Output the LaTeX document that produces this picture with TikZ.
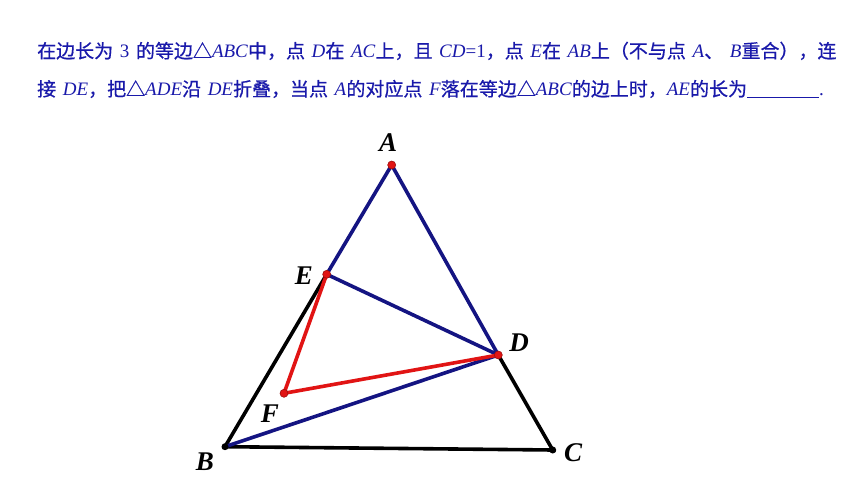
\documentclass[tikz,border=0pt]{standalone}
\usepackage{fontspec}
\setmainfont{Liberation Serif}
\newfontfamily\cjk[FakeBold=0.6]{Noto Sans CJK SC}
\newcommand{\tri}{{\cjk △}}
\newcommand{\gp}{\hspace{0.35em}}
\definecolor{txtblue}{RGB}{25,25,170}
\definecolor{navy}{RGB}{20,20,130}
\definecolor{ptred}{RGB}{225,20,20}
\begin{document}
\begin{tikzpicture}[x=1pt,y=-1pt,
  qtext/.style={anchor=base west,inner sep=0pt,text=txtblue,font=\fontsize{19}{19}\selectfont},
  lbl/.style={font=\fontsize{27}{27}\selectfont\bfseries\itshape,inner sep=0pt},
  bl/.style={draw=navy,line width=3.6pt},
  rd/.style={draw=ptred,line width=3.6pt},
  bk/.style={draw=black,line width=3.6pt},
  rdot/.style={circle,fill=ptred,draw=ptred!70!black,line width=0.6pt,inner sep=0pt,minimum size=8pt},
  kdot/.style={circle,fill=black,inner sep=0pt,minimum size=7pt}]
\useasboundingbox (0,0) rectangle (864,486);
\fill[white] (0,0) rectangle (864,486);
\node[qtext] (t1) at (37,58) {{\cjk 在边长为}\gp 3\gp{\cjk 的等边}\tri\textit{ABC}{\cjk 中，点}\gp\textit{D}{\cjk 在}\gp\textit{AC}{\cjk 上，且}\gp\textit{CD}=1{\cjk ，点}\gp\textit{E}{\cjk 在}\gp\textit{AB}{\cjk 上（不与点}\gp\textit{A}{\cjk 、}\gp\textit{B}{\cjk 重合），连}};
\node[qtext] (t2) at (37,96) {{\cjk 接}\gp\textit{DE}{\cjk ，把}\tri\textit{ADE}{\cjk 沿}\gp\textit{DE}{\cjk 折叠，当点}\gp\textit{A}{\cjk 的对应点}\gp\textit{F}{\cjk 落在等边}\tri\textit{ABC}{\cjk 的边上时，}\textit{AE}{\cjk 的长为}\rule[-1.5pt]{72pt}{0.8pt}.};
\coordinate (A) at (391.7,165);
\coordinate (E) at (326.7,274.3);
\coordinate (D) at (498.3,355);
\coordinate (F) at (284,393.3);
\coordinate (B) at (225,446.7);
\coordinate (C) at (552.7,450);
\draw[bk] (E) -- (B) -- (C) -- (D);
\draw[bl,line cap=round] (B) -- (D);
\draw[bl,line join=round] (E) -- (A) -- (D) -- cycle;
\draw[rd,line join=round] (E) -- (F) -- (D);
\node[rdot] (pA) at (A) {};
\node[rdot] (pE) at (E) {};
\node[rdot] (pD) at (D) {};
\node[rdot] (pF) at (F) {};
\node[kdot] (pB) at (B) {};
\node[kdot] (pC) at (C) {};
\node[lbl] (lA) at (388,143) {A};
\node[lbl] (lE) at (304,276) {E};
\node[lbl] (lD) at (519,343) {D};
\node[lbl] (lF) at (270,414) {F};
\node[lbl] (lB) at (205,462) {B};
\node[lbl] (lC) at (573,453) {C};
\end{tikzpicture}
\end{document}
